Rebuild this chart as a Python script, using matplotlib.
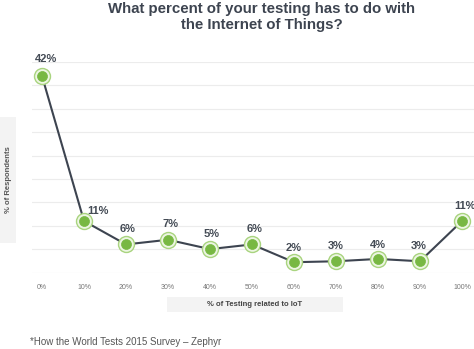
import matplotlib
matplotlib.use("Agg")
import matplotlib.pyplot as plt
from matplotlib.patches import Rectangle

plt.rcParams['font.family'] = ['Liberation Sans', 'DejaVu Sans']

categories = ["0%", "10%", "20%", "30%", "40%", "50%", "60%", "70%", "80%", "90%", "100%"]
x_values = [0, 10, 20, 30, 40, 50, 60, 70, 80, 90, 100]
respondents = [42, 11, 6, 7, 5, 6, 2.2, 2.4, 2.9, 2.4, 11]
point_labels = ["42%", "11%", "6%", "7%", "5%", "6%", "2%", "3%", "4%", "3%", "11%"]
label_dx = [3, 10, 1, 2, 1, 2, 0, 0, 0, -1, 2]
label_dy = [12, 7, 11, 11, 11, 11, 10, 11, 10, 11, 11]

W, H = 474, 349
fig = plt.figure(figsize=(W / 100, H / 100), dpi=100)
fig.patch.set_facecolor("white")

ax_left, ax_right = 32, 474
ax_top, ax_bottom = 62, 272.5
ax = fig.add_axes([ax_left / W, 1 - ax_bottom / H, (ax_right - ax_left) / W, (ax_bottom - ax_top) / H])
ax.set_xlim((ax_left - 42) / 4.2, (ax_right - 42) / 4.2)
ax.set_ylim(0, 45)

for s in ax.spines.values():
    s.set_visible(False)
ax.set_yticks(range(0, 46, 5))
ax.set_yticklabels([])
ax.yaxis.grid(True, color="#ececec", lw=0.8)
ax.set_axisbelow(True)
ax.tick_params(axis="both", length=0)
ax.set_xticks(x_values)
ax.set_xticklabels(categories, fontsize=5, color="#777777")
ax.tick_params(axis="x", pad=8)

line_color = "#3d4450"
ax.plot(x_values, respondents, color=line_color, lw=1.5, zorder=3, clip_on=False)
ax.plot(x_values, respondents, linestyle="none", marker="o", markersize=11.5,
        markerfacecolor="#edf6e3", markeredgecolor="#a9d47f", markeredgewidth=1.0,
        zorder=4, clip_on=False)
ax.plot(x_values, respondents, linestyle="none", marker="o", markersize=7.2,
        markerfacecolor="#78b843", markeredgecolor="#78b843", markeredgewidth=0.5,
        zorder=5, clip_on=False)

for xv, yv, lab, dx, dy in zip(x_values, respondents, point_labels, label_dx, label_dy):
    ax.annotate(lab, (xv, yv), xytext=(dx, dy), textcoords="offset points",
                ha="center", va="center", fontsize=8, fontweight="bold",
                color="#444b55", zorder=6)

fig.text(262 / W, 1 - 17 / H, "What percent of your testing has to do with\nthe Internet of Things?",
         ha="center", va="center", fontsize=10.8, fontweight="bold", color="#3d4450",
         linespacing=1.1)

# x label box
fig.patches.append(Rectangle((167 / W, 1 - 312 / H), (343 - 167) / W, 15 / H,
                             transform=fig.transFigure, facecolor="#f3f3f3", edgecolor="none"))
fig.text(255 / W, 1 - 304.5 / H, "% of Testing related to IoT", ha="center", va="center",
         fontsize=5.5, fontweight="bold", color="#444444")

# y label box
fig.patches.append(Rectangle((0, 1 - 243 / H), 16 / W, (243 - 117) / H,
                             transform=fig.transFigure, facecolor="#f3f3f3", edgecolor="none"))
fig.text(9 / W, 1 - 180 / H, "% of Respondents", ha="center", va="center", rotation=90,
         fontsize=5.5, fontweight="bold", color="#555555")

fig.text(30 / W, 1 - 342 / H, "*How the World Tests 2015 Survey \u2013 Zephyr", ha="left",
         va="center", fontsize=7, color="#555555")

fig.savefig("out.png", dpi=100, facecolor="white")
